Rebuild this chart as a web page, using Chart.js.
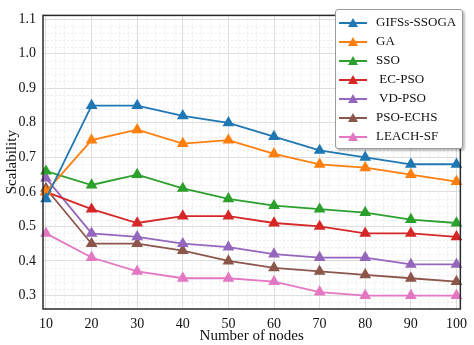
<!DOCTYPE html>
<html lang="en">
<head>
  <meta charset="UTF-8" />
  <title>Scalability vs Number of nodes</title>
  <script src="https://cdn.jsdelivr.net/npm/chart.js"></script>
  <style>
    html, body {
      margin: 0;
      padding: 0;
      background: #fff;
    }

    #wrap {
      position: relative;
      width: 474px;
      height: 345px;
    }

    #legend {
      position: absolute;
      left: 335px;
      top: 9px;
      width: 126px;
      padding: 2px 0 3px 0;
      background: #fff;
      border: 1px solid #9a9a9a;
      border-radius: 3px;
      box-shadow: 2px 2px 2px rgba(0,0,0,0.25);
      font-family: "Liberation Serif", "DejaVu Serif", serif;
      font-size: 13px;
      color: #111;
    }

    #legend div {
      height: 19px;
      line-height: 19px;
      white-space: pre;
    }

    #legend svg {
      vertical-align: middle;
      margin: 0 8px 0 2px;
    }
  </style>
</head>
<body>
  <div id="wrap">
    <canvas id="scalChart" width="474" height="345"></canvas>
    <div id="legend"></div>
  </div>

  <script>
    // data
    const nodes = [10, 20, 30, 40, 50, 60, 70, 80, 90, 100];
    const seriesNames = ['GIFSs-SSOGA', 'GA', 'SSO', ' EC-PSO', ' VD-PSO', 'PSO-ECHS', 'LEACH-SF'];
    const gifssSsoga = [0.58, 0.85, 0.85, 0.82, 0.80, 0.76, 0.72, 0.70, 0.68, 0.68];
    const ga         = [0.60, 0.75, 0.78, 0.74, 0.75, 0.71, 0.68, 0.67, 0.65, 0.63];
    const sso        = [0.66, 0.62, 0.65, 0.61, 0.58, 0.56, 0.55, 0.54, 0.52, 0.51];
    const ecPso      = [0.60, 0.55, 0.51, 0.53, 0.53, 0.51, 0.50, 0.48, 0.48, 0.47];
    const vdPso      = [0.64, 0.48, 0.47, 0.45, 0.44, 0.42, 0.41, 0.41, 0.39, 0.39];
    const psoEchs    = [0.61, 0.45, 0.45, 0.43, 0.40, 0.38, 0.37, 0.36, 0.35, 0.34];
    const leachSf    = [0.48, 0.41, 0.37, 0.35, 0.35, 0.34, 0.31, 0.30, 0.30, 0.30];
    const xTicks = [10, 20, 30, 40, 50, 60, 70, 80, 90, 100];
    const yTicks = [0.3, 0.4, 0.5, 0.6, 0.7, 0.8, 0.9, 1.0, 1.1];

    const allSeries = [gifssSsoga, ga, sso, ecPso, vdPso, psoEchs, leachSf];
    const colors = ['#1f77b4', '#ff7f0e', '#2ca02c', '#d62728', '#9467bd', '#8c564b', '#e377c2'];

    const FONT = '"Liberation Serif", "DejaVu Serif", serif';

    const datasets = allSeries.map((vals, i) => ({
      label: seriesNames[i],
      data: vals.map((v, j) => ({ x: nodes[j], y: v })),
      borderColor: colors[i],
      backgroundColor: colors[i],
      borderWidth: 1.8,
      pointStyle: 'triangle',
      pointRadius: 5,
      pointHoverRadius: 5,
      tension: 0,
      clip: false
    }));

    // minor dashed grid, drawn under the major grid
    const minorGrid = {
      id: 'minorGrid',
      beforeDraw(chart) {
        const { ctx, chartArea: a, scales } = chart;
        ctx.save();
        ctx.strokeStyle = '#e8e8e8';
        ctx.lineWidth = 0.8;
        ctx.setLineDash([2, 2]);
        for (let v = 10; v <= 100; v += 2) {
          if (v % 10 === 0) continue;
          const px = Math.round(scales.x.getPixelForValue(v)) + 0.5;
          ctx.beginPath(); ctx.moveTo(px, a.top); ctx.lineTo(px, a.bottom); ctx.stroke();
        }
        for (let k = 14; k <= 55; k++) {
          if (k % 5 === 0) continue;
          const py = Math.round(scales.y.getPixelForValue(k * 0.02)) + 0.5;
          if (py < a.top || py > a.bottom) continue;
          ctx.beginPath(); ctx.moveTo(a.left, py); ctx.lineTo(a.right, py); ctx.stroke();
        }
        ctx.restore();
      },
      afterDatasetsDraw(chart) {
        const { ctx, chartArea: a } = chart;
        ctx.save();
        ctx.strokeStyle = '#2a2a2a';
        ctx.lineWidth = 1.5;
        ctx.strokeRect(a.left, a.top, a.right - a.left, a.bottom - a.top);
        ctx.restore();
      }
    };

    const ctx = document.getElementById('scalChart').getContext('2d');
    new Chart(ctx, {
      type: 'line',
      data: { datasets },
      options: {
        responsive: false,
        animation: false,
        events: [],
        layout: { padding: { top: 3, right: 7, left: 0, bottom: 0 } },
        plugins: {
          legend: { display: false },
          tooltip: { enabled: false }
        },
        scales: {
          x: {
            type: 'linear',
            min: 9.35,
            max: 100.86,
            afterBuildTicks: s => { s.ticks = xTicks.map(v => ({ value: v })); },
            afterFit: s => { s.height = 36; },
            grid: { color: '#dedede', lineWidth: 1, drawTicks: false },
            border: { display: false },
            ticks: {
              color: '#111',
              padding: 7,
              maxRotation: 0,
              font: { family: FONT, size: 14 }
            },
            title: {
              display: true,
              text: 'Number of nodes',
              color: '#111',
              padding: { top: 0, bottom: 0 },
              font: { family: FONT, size: 15 }
            }
          },
          y: {
            type: 'linear',
            min: 0.261,
            max: 1.111,
            afterBuildTicks: s => { s.ticks = yTicks.map(v => ({ value: v })); },
            afterFit: s => { s.width = 43; },
            grid: { color: '#dedede', lineWidth: 1, drawTicks: false },
            border: { display: false },
            ticks: {
              color: '#111',
              padding: 7,
              callback: v => v.toFixed(1),
              font: { family: FONT, size: 14 }
            },
            title: {
              display: true,
              text: 'Scalability',
              color: '#111',
              padding: { top: 3, bottom: 0 },
              font: { family: FONT, size: 15 }
            }
          }
        }
      },
      plugins: [minorGrid]
    });

    // legend box inside the plot, built from the same series names and colours
    const legend = document.getElementById('legend');
    seriesNames.forEach((name, i) => {
      const row = document.createElement('div');
      row.innerHTML =
        '<svg width="30" height="10"><line x1="1" y1="5" x2="29" y2="5" stroke="' + colors[i] +
        '" stroke-width="2"/><polygon points="15,0 20,9 10,9" fill="' + colors[i] + '"/></svg>';
      row.appendChild(document.createTextNode(name));
      legend.appendChild(row);
    });
  </script>
</body>
</html>
